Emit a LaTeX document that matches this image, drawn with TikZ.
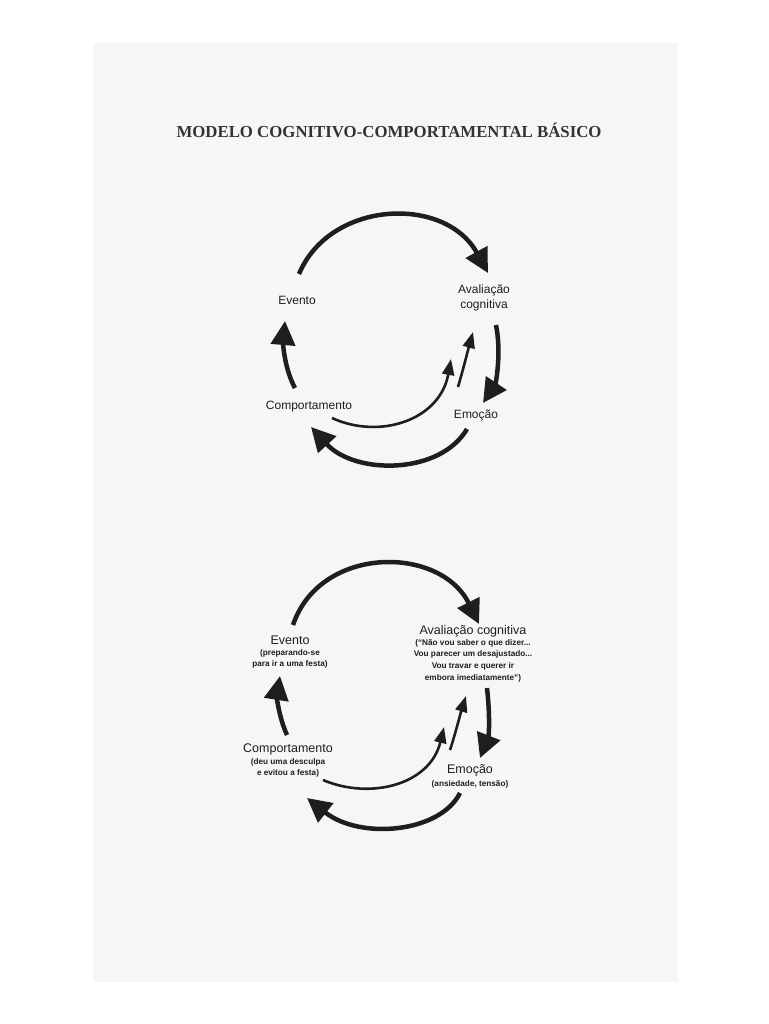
\documentclass[tikz,border=0pt]{standalone}
\usepackage{fontspec}
\setmainfont{Liberation Sans}
\newfontfamily\titlefont{Liberation Serif}
\usetikzlibrary{arrows.meta}
\definecolor{pagebg}{HTML}{F6F6F6}
\definecolor{ink}{HTML}{1E1E1E}
\definecolor{titleink}{HTML}{333333}
\tikzset{
  big/.style={draw=ink,line width=4.5pt,-{Triangle[length=24pt,width=24pt]}},
  small/.style={draw=ink,line width=2.6pt,-{Triangle[length=16pt,width=12pt]}},
  lbl/.style={inner sep=0pt,text=ink,font=\fontsize{12}{14}\selectfont},
  sub/.style={inner sep=0pt,text=ink,align=center,anchor=north,font=\bfseries\fontsize{8.2}{11.8}\selectfont},
}
\begin{document}
\begin{tikzpicture}[x=1pt,y=-1pt]
\useasboundingbox (0,0) rectangle (768,1024);
\fill[white] (0,0) rectangle (768,1024);
\fill[pagebg] (93,43) rectangle (678,982);
\node[inner sep=0pt,text=titleink,font=\titlefont\bfseries\fontsize{16.8}{18}\selectfont] (title) at (389,130) {MODELO COGNITIVO-COMPORTAMENTAL BÁSICO};

% ---------- top diagram
\node[lbl] (ev1) at (297,300) {Evento};
\node[lbl,align=center,font=\fontsize{12}{15.5}\selectfont] (av1) at (484,298) {Avaliação\\cognitiva};
\node[lbl] (em1) at (476,415) {Emoção};
\node[lbl] (co1) at (309,407) {Comportamento};

\coordinate (a1s) at (299,274); \coordinate (a1e) at (488,273);
\coordinate (b1s) at (496,325); \coordinate (b1e) at (483,403);
\coordinate (c1s) at (467,429); \coordinate (c1e) at (311,427);
\coordinate (d1s) at (295,388); \coordinate (d1e) at (285,321);
\coordinate (e1s) at (332,418); \coordinate (e1e) at (451,359);
\coordinate (f1s) at (458,387); \coordinate (f1e) at (473,332);

\draw[big] (a1s) .. controls (330,200) and (445,195) .. (a1e);
\draw[big] (b1s) .. controls (502,355) and (495,385) .. (b1e);
\draw[big] (c1s) .. controls (440,475) and (355,475) .. (c1e);
\draw[big] (d1s) .. controls (285,370) and (283,345) .. (d1e);
\draw[small] (e1s) .. controls (380,440) and (440,420) .. (e1e);
\draw[small] (f1s) .. controls (463,370) and (468,350) .. (f1e);

% ---------- bottom diagram
\node[lbl,font=\fontsize{12.5}{14}\selectfont] (ev2) at (290,640) {Evento};
\node[sub] (ev2s) at (290,649) {(preparando-se\\para ir a uma festa)};
\node[lbl,font=\fontsize{12.5}{14}\selectfont] (av2) at (473,631) {Avaliação cognitiva};
\node[sub] (av2s) at (473,639) {(“Não vou saber o que dizer...\\Vou parecer um desajustado...\\Vou travar e querer ir\\embora imediatamente”)};
\node[lbl,font=\fontsize{12.5}{14}\selectfont] (co2) at (288,749) {Comportamento};
\node[sub] (co2s) at (288,758) {(deu uma desculpa\\e evitou a festa)};
\node[lbl,font=\fontsize{12.5}{14}\selectfont] (em2) at (470,770) {Emoção};
\node[sub] (em2s) at (470,780) {(ansiedade, tensão)};

\coordinate (a2s) at (293,625); \coordinate (a2e) at (479,624);
\coordinate (b2s) at (487,688); \coordinate (b2e) at (480,758);
\coordinate (c2s) at (460,793); \coordinate (c2e) at (307,798);
\coordinate (d2s) at (287,735); \coordinate (d2e) at (280,676);
\coordinate (e2s) at (323,780); \coordinate (e2e) at (444,727);
\coordinate (f2s) at (450,750); \coordinate (f2e) at (466,696);

\draw[big] (a2s) .. controls (320,545) and (440,545) .. (a2e);
\draw[big] (b2s) .. controls (490,715) and (489,735) .. (b2e);
\draw[big] (c2s) .. controls (440,833) and (360,840) .. (c2e);
\draw[big] (d2s) .. controls (278,715) and (277,695) .. (d2e);
\draw[small] (e2s) .. controls (370,800) and (430,785) .. (e2e);
\draw[small] (f2s) .. controls (455,735) and (460,715) .. (f2e);
\end{tikzpicture}
\end{document}
